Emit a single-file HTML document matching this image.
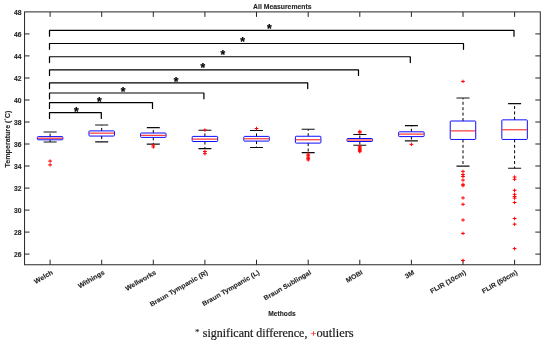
<!DOCTYPE html>
<html><head><meta charset="utf-8"><title>All Measurements</title>
<style>html,body{margin:0;padding:0;background:#fff}body{width:550px;height:344px;overflow:hidden}svg{display:block}.t{font-family:"Liberation Sans",sans-serif;font-weight:bold;font-size:6.7px;fill:#262626;stroke:#262626;stroke-width:0.12px}.cap{font-family:"Liberation Serif",serif;font-size:11.8px;fill:#1a1a1a;stroke:#1a1a1a;stroke-width:0.2px}</style></head><body>
<svg width="550" height="344" viewBox="0 0 550 344">
<defs><filter id="soft" x="0" y="0" width="550" height="344" filterUnits="userSpaceOnUse"><feGaussianBlur stdDeviation="0.3"/></filter></defs>
<rect width="550" height="344" fill="#fff"/>
<g filter="url(#soft)">
<g stroke="#262626" stroke-width="1" fill="none">
<rect x="24.55" y="11.9" width="515.75" height="252.85"/>
<path d="M50.1 11.9v5M50.1 264.75v-5M101.7 11.9v5M101.7 264.75v-5M153.3 11.9v5M153.3 264.75v-5M204.9 11.9v5M204.9 264.75v-5M256.5 11.9v5M256.5 264.75v-5M308.2 11.9v5M308.2 264.75v-5M359.8 11.9v5M359.8 264.75v-5M411.4 11.9v5M411.4 264.75v-5M463.0 11.9v5M463.0 264.75v-5M514.6 11.9v5M514.6 264.75v-5M24.55 254.1h5M540.3 254.1h-5M24.55 232.1h5M540.3 232.1h-5M24.55 210.1h5M540.3 210.1h-5M24.55 188.1h5M540.3 188.1h-5M24.55 166.0h5M540.3 166.0h-5M24.55 144.0h5M540.3 144.0h-5M24.55 122.0h5M540.3 122.0h-5M24.55 100.0h5M540.3 100.0h-5M24.55 78.0h5M540.3 78.0h-5M24.55 55.9h5M540.3 55.9h-5M24.55 33.9h5M540.3 33.9h-5"/>
</g>
<text class="t" transform="translate(21.5,256.87) scale(1.0,1)" text-anchor="end">26</text>
<text class="t" transform="translate(21.5,234.85) scale(1.0,1)" text-anchor="end">28</text>
<text class="t" transform="translate(21.5,212.83) scale(1.0,1)" text-anchor="end">30</text>
<text class="t" transform="translate(21.5,190.81) scale(1.0,1)" text-anchor="end">32</text>
<text class="t" transform="translate(21.5,168.79) scale(1.0,1)" text-anchor="end">34</text>
<text class="t" transform="translate(21.5,146.77) scale(1.0,1)" text-anchor="end">36</text>
<text class="t" transform="translate(21.5,124.75) scale(1.0,1)" text-anchor="end">38</text>
<text class="t" transform="translate(21.5,102.73) scale(1.0,1)" text-anchor="end">40</text>
<text class="t" transform="translate(21.5,80.71) scale(1.0,1)" text-anchor="end">42</text>
<text class="t" transform="translate(21.5,58.69) scale(1.0,1)" text-anchor="end">44</text>
<text class="t" transform="translate(21.5,36.67) scale(1.0,1)" text-anchor="end">46</text>
<text class="t" transform="translate(21.5,14.65) scale(1.0,1)" text-anchor="end">48</text>
<text class="t" transform="translate(282.3,9.2) scale(1.02,1)" text-anchor="middle">All Measurements</text>
<text class="t" transform="translate(10.2,139.1) rotate(-90) scale(1.065,1)" text-anchor="middle">Temperature (<tspan dx="0.4" dy="-2.9" style="font-size:3.8px">°</tspan><tspan dx="0.3" dy="2.9">C)</tspan></text>
<text class="t" transform="translate(282,315.9) scale(0.995,1)" text-anchor="middle">Methods</text>
<text class="t" transform="translate(53.5,273.8) rotate(-30) scale(1.043,1)" text-anchor="end">Welch</text>
<text class="t" transform="translate(105.1,273.8) rotate(-30) scale(1.043,1)" text-anchor="end">Withings</text>
<text class="t" transform="translate(156.7,273.8) rotate(-30) scale(1.043,1)" text-anchor="end">Wellworks</text>
<text class="t" transform="translate(208.3,273.8) rotate(-30) scale(1.043,1)" text-anchor="end">Braun Tympanic (R)</text>
<text class="t" transform="translate(259.9,273.8) rotate(-30) scale(1.043,1)" text-anchor="end">Braun Tympanic (L)</text>
<text class="t" transform="translate(311.6,273.8) rotate(-30) scale(1.043,1)" text-anchor="end">Braun Sublingal</text>
<text class="t" transform="translate(363.2,273.8) rotate(-30) scale(1.043,1)" text-anchor="end">MOBI</text>
<text class="t" transform="translate(414.8,273.8) rotate(-30) scale(1.043,1)" text-anchor="end">3M</text>
<text class="t" transform="translate(466.4,273.8) rotate(-30) scale(1.043,1)" text-anchor="end">FLIR (10cm)</text>
<text class="t" transform="translate(518.0,273.8) rotate(-30) scale(1.043,1)" text-anchor="end">FLIR (50cm)</text>
<g stroke="#000" stroke-width="1.22" fill="none" stroke-linejoin="round" stroke-linecap="round">
<path d="M49.5 118.40V112.6H101.3V118.40"/>
<path d="M49.5 108.40V102.6H152.5V108.40"/>
<path d="M49.5 98.80V93.0H203.9V98.80"/>
<path d="M49.5 88.60V82.8H307.7V88.60"/>
<path d="M49.5 75.60V69.8H358.5V75.60"/>
<path d="M49.5 62.55V56.75H410.3V62.55"/>
<path d="M49.5 49.30V43.5H463.5V49.30"/>
<path d="M49.5 36.25V30.45H514.0V36.25"/>
</g>
<text x="76.3" y="115.7" text-anchor="middle" style="font-family:'Liberation Sans',sans-serif;font-weight:bold;font-size:12px;fill:#000;stroke:#000;stroke-width:0.25px;stroke-linejoin:round">*</text>
<text x="99.4" y="105.6" text-anchor="middle" style="font-family:'Liberation Sans',sans-serif;font-weight:bold;font-size:12px;fill:#000;stroke:#000;stroke-width:0.25px;stroke-linejoin:round">*</text>
<text x="123.2" y="96.0" text-anchor="middle" style="font-family:'Liberation Sans',sans-serif;font-weight:bold;font-size:12px;fill:#000;stroke:#000;stroke-width:0.25px;stroke-linejoin:round">*</text>
<text x="176.2" y="85.8" text-anchor="middle" style="font-family:'Liberation Sans',sans-serif;font-weight:bold;font-size:12px;fill:#000;stroke:#000;stroke-width:0.25px;stroke-linejoin:round">*</text>
<text x="202.9" y="72.2" text-anchor="middle" style="font-family:'Liberation Sans',sans-serif;font-weight:bold;font-size:12px;fill:#000;stroke:#000;stroke-width:0.25px;stroke-linejoin:round">*</text>
<text x="222.9" y="59.4" text-anchor="middle" style="font-family:'Liberation Sans',sans-serif;font-weight:bold;font-size:12px;fill:#000;stroke:#000;stroke-width:0.25px;stroke-linejoin:round">*</text>
<text x="242.7" y="46.2" text-anchor="middle" style="font-family:'Liberation Sans',sans-serif;font-weight:bold;font-size:12px;fill:#000;stroke:#000;stroke-width:0.25px;stroke-linejoin:round">*</text>
<text x="269.4" y="33.1" text-anchor="middle" style="font-family:'Liberation Sans',sans-serif;font-weight:bold;font-size:12px;fill:#000;stroke:#000;stroke-width:0.25px;stroke-linejoin:round">*</text>
<path d="M50.1 136.6V132.0M50.1 139.79999999999998V142.0" stroke="#000" stroke-width="1.0" stroke-dasharray="3 2.4" fill="none"/>
<path d="M43.6 132.0h13M43.6 142.0h13" stroke="#111" stroke-width="1.05" fill="none"/>
<rect x="37.35" y="136.6" width="25.5" height="3.20" rx="0.8" stroke="#0000ff" stroke-width="0.95" fill="none"/>
<path d="M37.75 138.2h24.7" stroke="#ff0000" stroke-width="0.95" fill="none"/>
<path d="M48.2 161.10h3.8M50.1 159.40v3.4M48.2 164.90h3.8M50.1 163.20v3.4" stroke="#ff0000" stroke-width="1.0" fill="none"/>
<path d="M101.7 130.9V125.0M101.7 136.04999999999998V141.85" stroke="#000" stroke-width="1.0" stroke-dasharray="3 2.4" fill="none"/>
<path d="M95.2 125.0h13M95.2 141.85h13" stroke="#111" stroke-width="1.05" fill="none"/>
<rect x="88.96" y="130.9" width="25.5" height="5.15" rx="0.8" stroke="#0000ff" stroke-width="0.95" fill="none"/>
<path d="M89.36 133.15h24.7" stroke="#ff0000" stroke-width="0.95" fill="none"/>
<path d="M153.3 133.0V127.6M153.3 137.4V144.1" stroke="#000" stroke-width="1.0" stroke-dasharray="3 2.4" fill="none"/>
<path d="M146.8 127.6h13M146.8 144.1h13" stroke="#111" stroke-width="1.05" fill="none"/>
<rect x="140.57" y="133.0" width="25.5" height="4.40" rx="0.8" stroke="#0000ff" stroke-width="0.95" fill="none"/>
<path d="M140.97 135.29999999999998h24.7" stroke="#ff0000" stroke-width="0.95" fill="none"/>
<path d="M151.4 145.10h3.8M153.3 143.40v3.4M151.4 147.00h3.8M153.3 145.30v3.4" stroke="#ff0000" stroke-width="1.0" fill="none"/>
<path d="M204.9 136.4V130.29999999999998M204.9 141.5V148.6" stroke="#000" stroke-width="1.0" stroke-dasharray="3 2.4" fill="none"/>
<path d="M198.4 130.29999999999998h13M198.4 148.6h13" stroke="#111" stroke-width="1.05" fill="none"/>
<rect x="192.18" y="136.4" width="25.5" height="5.10" rx="0.8" stroke="#0000ff" stroke-width="0.95" fill="none"/>
<path d="M192.58 139.1h24.7" stroke="#ff0000" stroke-width="0.95" fill="none"/>
<path d="M203.0 130.10h3.8M204.9 128.40v3.4M203.0 151.50h3.8M204.9 149.80v3.4M203.0 153.70h3.8M204.9 152.00v3.4" stroke="#ff0000" stroke-width="1.0" fill="none"/>
<path d="M256.5 136.4V130.5M256.5 141.1V147.4" stroke="#000" stroke-width="1.0" stroke-dasharray="3 2.4" fill="none"/>
<path d="M250.0 130.5h13M250.0 147.4h13" stroke="#111" stroke-width="1.05" fill="none"/>
<rect x="243.79" y="136.4" width="25.5" height="4.70" rx="0.8" stroke="#0000ff" stroke-width="0.95" fill="none"/>
<path d="M244.19 138.79999999999998h24.7" stroke="#ff0000" stroke-width="0.95" fill="none"/>
<path d="M254.6 128.50h3.8M256.5 126.80v3.4" stroke="#ff0000" stroke-width="1.0" fill="none"/>
<path d="M308.2 136.25V129.29999999999998M308.2 143.1V152.6" stroke="#000" stroke-width="1.0" stroke-dasharray="3 2.4" fill="none"/>
<path d="M301.7 129.29999999999998h13M301.7 152.6h13" stroke="#111" stroke-width="1.05" fill="none"/>
<rect x="295.40" y="136.25" width="25.5" height="6.85" rx="0.8" stroke="#0000ff" stroke-width="0.95" fill="none"/>
<path d="M295.80 139.79999999999998h24.7" stroke="#ff0000" stroke-width="0.95" fill="none"/>
<path d="M306.3 154.10h3.8M308.2 152.40v3.4M306.3 155.70h3.8M308.2 154.00v3.4M306.3 157.20h3.8M308.2 155.50v3.4M306.3 158.60h3.8M308.2 156.90v3.4M306.3 159.90h3.8M308.2 158.20v3.4" stroke="#ff0000" stroke-width="1.0" fill="none"/>
<path d="M359.8 138.5V134.5M359.8 141.5V145.2" stroke="#000" stroke-width="1.0" stroke-dasharray="3 2.4" fill="none"/>
<path d="M353.3 134.5h13M353.3 145.2h13" stroke="#111" stroke-width="1.05" fill="none"/>
<rect x="347.01" y="138.5" width="25.5" height="3.00" rx="0.8" stroke="#0000ff" stroke-width="0.95" fill="none"/>
<path d="M347.41 140.0h24.7" stroke="#ff0000" stroke-width="0.95" fill="none"/>
<path d="M357.9 131.40h3.8M359.8 129.70v3.4M357.9 132.80h3.8M359.8 131.10v3.4M357.9 146.10h3.8M359.8 144.40v3.4M357.9 147.10h3.8M359.8 145.40v3.4M357.9 148.30h3.8M359.8 146.60v3.4M357.9 149.60h3.8M359.8 147.90v3.4M357.9 150.70h3.8M359.8 149.00v3.4M357.9 151.70h3.8M359.8 150.00v3.4" stroke="#ff0000" stroke-width="1.0" fill="none"/>
<path d="M411.4 131.79999999999998V125.6M411.4 136.6V140.85" stroke="#000" stroke-width="1.0" stroke-dasharray="3 2.4" fill="none"/>
<path d="M404.9 125.6h13M404.9 140.85h13" stroke="#111" stroke-width="1.05" fill="none"/>
<rect x="398.62" y="131.79999999999998" width="25.5" height="4.80" rx="0.8" stroke="#0000ff" stroke-width="0.95" fill="none"/>
<path d="M399.02 134.1h24.7" stroke="#ff0000" stroke-width="0.95" fill="none"/>
<path d="M409.5 144.35h3.8M411.4 142.65v3.4" stroke="#ff0000" stroke-width="1.0" fill="none"/>
<path d="M463.0 121.0V98.0M463.0 139.45V166.1" stroke="#000" stroke-width="1.0" stroke-dasharray="3 2.4" fill="none"/>
<path d="M456.5 98.0h13M456.5 166.1h13" stroke="#111" stroke-width="1.05" fill="none"/>
<rect x="450.23" y="121.0" width="25.5" height="18.45" rx="0.8" stroke="#0000ff" stroke-width="0.95" fill="none"/>
<path d="M450.63 130.9h24.7" stroke="#ff0000" stroke-width="0.95" fill="none"/>
<path d="M461.1 81.40h3.8M463.0 79.70v3.4M461.1 171.40h3.8M463.0 169.70v3.4M461.1 174.60h3.8M463.0 172.90v3.4M461.1 176.50h3.8M463.0 174.80v3.4M461.1 180.10h3.8M463.0 178.40v3.4M461.1 184.30h3.8M463.0 182.60v3.4M461.1 185.70h3.8M463.0 184.00v3.4M461.1 197.90h3.8M463.0 196.20v3.4M461.1 204.30h3.8M463.0 202.60v3.4M461.1 220.00h3.8M463.0 218.30v3.4M461.1 233.40h3.8M463.0 231.70v3.4M461.1 260.50h3.8M463.0 258.80v3.4" stroke="#ff0000" stroke-width="1.0" fill="none"/>
<path d="M514.6 119.85V103.6M514.6 139.45V168.3" stroke="#000" stroke-width="1.0" stroke-dasharray="3 2.4" fill="none"/>
<path d="M508.1 103.6h13M508.1 168.3h13" stroke="#111" stroke-width="1.05" fill="none"/>
<rect x="501.84" y="119.85" width="25.5" height="19.60" rx="0.8" stroke="#0000ff" stroke-width="0.95" fill="none"/>
<path d="M502.24 129.8h24.7" stroke="#ff0000" stroke-width="0.95" fill="none"/>
<path d="M512.7 177.00h3.8M514.6 175.30v3.4M512.7 179.30h3.8M514.6 177.60v3.4M512.7 190.30h3.8M514.6 188.60v3.4M512.7 194.30h3.8M514.6 192.60v3.4M512.7 196.50h3.8M514.6 194.80v3.4M512.7 198.10h3.8M514.6 196.40v3.4M512.7 202.50h3.8M514.6 200.80v3.4M512.7 218.50h3.8M514.6 216.80v3.4M512.7 224.20h3.8M514.6 222.50v3.4M512.7 248.60h3.8M514.6 246.90v3.4" stroke="#ff0000" stroke-width="1.0" fill="none"/>
<text class="cap" x="194.9" y="335.1" style="stroke-width:0.1px;font-size:9px">*</text>
<text class="cap" x="202.8" y="336.5" textLength="104.6" lengthAdjust="spacingAndGlyphs">significant difference,</text>
<text class="cap" x="310.6" y="336.7" style="fill:#ff0000;stroke:#ff0000;font-size:10.5px">+</text>
<text class="cap" x="316.4" y="336.5" textLength="37.3" lengthAdjust="spacingAndGlyphs">outliers</text>
</g>
</svg></body></html>
